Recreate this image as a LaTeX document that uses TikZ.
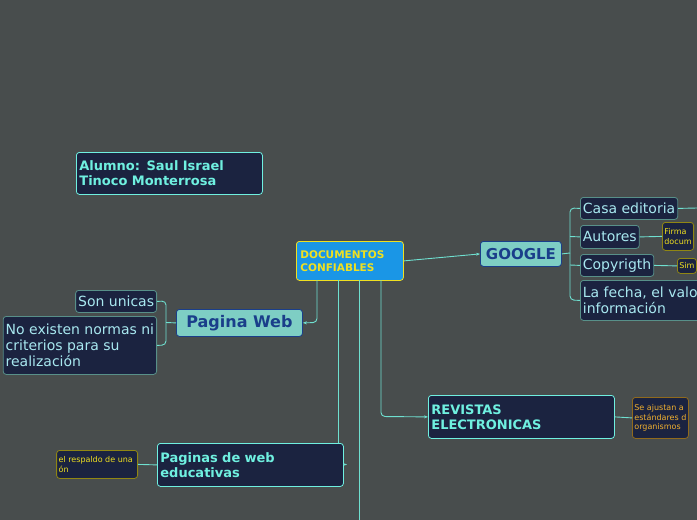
\documentclass[tikz,border=0pt]{standalone}
\usepackage{fontspec}
\setmainfont{DejaVu Sans}
\usetikzlibrary{arrows.meta}
\definecolor{bg}{HTML}{484D4D}
\definecolor{navy}{HTML}{1B2340}
\definecolor{teal}{HTML}{7ECEC4}
\definecolor{lcyan}{HTML}{6FF0E0}
\definecolor{pcyan}{HTML}{A8E8F0}
\definecolor{dblue}{HTML}{1A3E8A}
\definecolor{yel}{HTML}{F0E020}
\definecolor{org}{HTML}{F0B030}
\definecolor{conn}{HTML}{6FE0D0}
\definecolor{docblue}{HTML}{1A96E6}
\begin{document}
\begin{tikzpicture}[x=1pt,y=-1pt,
  box/.style={rounded corners=3pt,fill=navy,draw=teal!70!black,line width=0.8pt,inner sep=3pt,align=left,anchor=north west},
  sub/.style={box,text=pcyan,font=\fontsize{14}{16}\selectfont,inner sep=2.5pt},
  note/.style={box,draw=yel!60!black,text=yel,font=\fontsize{8}{9.5}\selectfont,inner sep=2pt},
  big/.style={box,draw=lcyan,text=lcyan,font=\bfseries\fontsize{13}{15}\selectfont,text width=180pt},
  ln/.style={conn,line width=0.9pt},
  arr/.style={ln,-{Stealth[length=4pt]}}]
\fill[bg] (0,0) rectangle (697,520);
\useasboundingbox (0,0) rectangle (697,520);
\node[big,text width=180pt,minimum height=42pt] (alum) at (76,152) {Alumno: Saul Israel\\Tinoco Monterrosa};
\node[box,fill=docblue,draw=yel,text=yel,font=\bfseries\fontsize{10.5}{13}\selectfont,text width=99pt,minimum height=39pt,inner sep=4pt] (doc) at (296,241) {DOCUMENTOS\\CONFIABLES};
\node[box,fill=teal,draw=dblue,text=dblue,font=\bfseries\fontsize{15}{17}\selectfont,minimum width=81pt,minimum height=25pt,align=center,inner sep=2pt] (goo) at (480,241) {GOOGLE};
\node[sub,minimum height=22pt] (casa) at (580,197) {Casa editoria};
\node[sub,minimum height=23pt] (aut) at (580,225) {Autores};
\node[sub,minimum height=22pt] (copy) at (580,254) {Copyrigth};
\node[sub,minimum height=40pt] (fecha) at (580,280) {La fecha, el valor\\información};
\node[note,minimum height=28pt] (firma) at (662,222) {Firma\\docum};
\node[note,minimum height=15pt] (sim) at (677,258) {Sim};
\node[box,fill=teal,draw=dblue,text=dblue,font=\bfseries\fontsize{16}{18}\selectfont,minimum width=126pt,minimum height=27pt,align=center,inner sep=2pt] (pw) at (176,309) {Pagina Web};
\node[sub,anchor=north east,minimum height=22pt] (son) at (157,290) {Son unicas};
\node[sub,anchor=north east,minimum height=58pt] (no) at (157,316) {No existen normas ni\\criterios para su\\realización};
\node[big,minimum height=43pt] (rev) at (428,395) {REVISTAS\\ELECTRONICAS};
\node[note,text=org,draw=org!60!black,minimum height=41pt] (aj) at (632,397) {Se ajustan a\\estándares d\\organismos};
\node[big,minimum height=43pt] (edu) at (157,443) {Paginas de web\\educativas};
\node[note,anchor=north east,minimum height=28pt] (resp) at (138,450) {el respaldo de una\\ón\hspace*{67pt}};
% connectors
\draw[arr] (doc.east) -- (goo.west);
\draw[ln] (goo.east) -- (570,253);
\draw[ln,rounded corners=4pt] (570,253) -- (570,208) -- (casa.west);
\draw[ln] (570,236.5) -- (aut.west);
\draw[ln] (570,265) -- (copy.west);
\draw[ln,rounded corners=4pt] (570,253) -- (570,300) -- (fecha.west);
\draw[ln] (casa.east) -- (697,208);
\draw[ln] (aut.east) -- (firma.west);
\draw[ln] (copy.east) -- (sim.west);
\draw[arr,rounded corners=4pt] (317,280) -- (317,322.5) -- (pw.east);
\draw[ln] (pw.west) -- (166,322.5);
\draw[ln,rounded corners=4pt] (166,322.5) -- (166,301) -- (son.east);
\draw[ln,rounded corners=4pt] (166,322.5) -- (166,345) -- (no.east);
\draw[ln] (338,280) -- (338,443);
\draw[-{Stealth[length=3pt]},conn,line width=0.6pt] (343,464.5) -- (347,464.5);
\draw[ln] (edu.west) -- (resp.east);
\draw[ln] (359,280) -- (359,520);
\draw[arr,rounded corners=4pt] (381,280) -- (381,416.5) -- (rev.west);
\draw[ln] (rev.east) -- (aj.west);
\end{tikzpicture}
\end{document}
